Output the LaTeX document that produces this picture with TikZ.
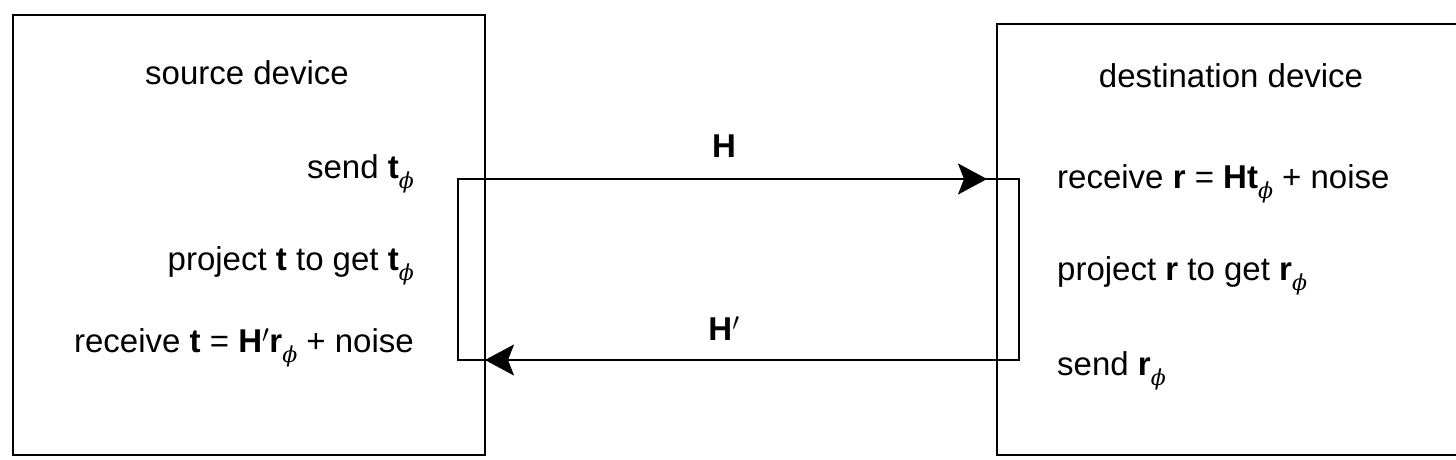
\documentclass[tikz,border=0pt]{standalone}
\usepackage{fontspec}
\setmainfont{Liberation Sans}
\newfontfamily\phifont{DejaVu Serif}
\usetikzlibrary{arrows.meta}
\newcommand{\sphi}{\raisebox{-10pt}{\fontsize{22}{22}\selectfont\phifont\itshape ϕ}}
\newcommand{\bv}[1]{\textbf{#1}}
\begin{document}
\begin{tikzpicture}[x=1pt,y=-1pt,
  font=\fontsize{33}{40}\selectfont,
  devbox/.style={draw, line width=2.2pt, inner sep=0pt, anchor=north west},
  lbl/.style={inner sep=0pt},
  loopline/.style={line width=2pt},
  bigtip/.style={-{Stealth[length=29pt,width=31pt,inset=6pt]}, line width=2pt}]
\useasboundingbox (0,0) rectangle (1456,459);
% device boxes
\node[devbox, minimum width=472pt, minimum height=440pt] (src) at (12,14) {};
\node[devbox, minimum width=464pt, minimum height=431pt] (dst) at (996,23) {};
% loop
\coordinate (tl) at (458,179);
\coordinate (tr) at (1019,179);
\coordinate (br) at (1019,360);
\coordinate (bl) at (458,360);
\coordinate (toptip) at (987,179);
\coordinate (bottip) at (485,360);
\draw[loopline] (tl) -- (tr) -- (br) -- (bl) -- cycle;
\draw[bigtip] (tl) -- (toptip);
\draw[bigtip] (br) -- (bottip);
% labels
\node[lbl, anchor=base] (srctitle) at (247,84) {source device};
\node[lbl, anchor=base east] (s1) at (414,178) {send \bv{t}\sphi};
\node[lbl, anchor=base east] (s2) at (414,270) {project \bv{t} to get \bv{t}\sphi};
\node[lbl, anchor=base east] (s3) at (414,352) {receive \bv{t} = \bv{H}$'$\bv{r}\sphi{} + noise};
\node[lbl, anchor=base] (dsttitle) at (1231,87) {destination device};
\node[lbl, anchor=base west] (d1) at (1057,188) {receive \bv{r} = \bv{Ht}\sphi{} + noise};
\node[lbl, anchor=base west] (d2) at (1057,280) {project \bv{r} to get \bv{r}\sphi};
\node[lbl, anchor=base west] (d3) at (1057,375) {send \bv{r}\sphi};
\node[lbl, anchor=base] (hf) at (724,157) {\bv{H}};
\node[lbl, anchor=base] (hb) at (724,340) {\bv{H}$'$};
\end{tikzpicture}
\end{document}
